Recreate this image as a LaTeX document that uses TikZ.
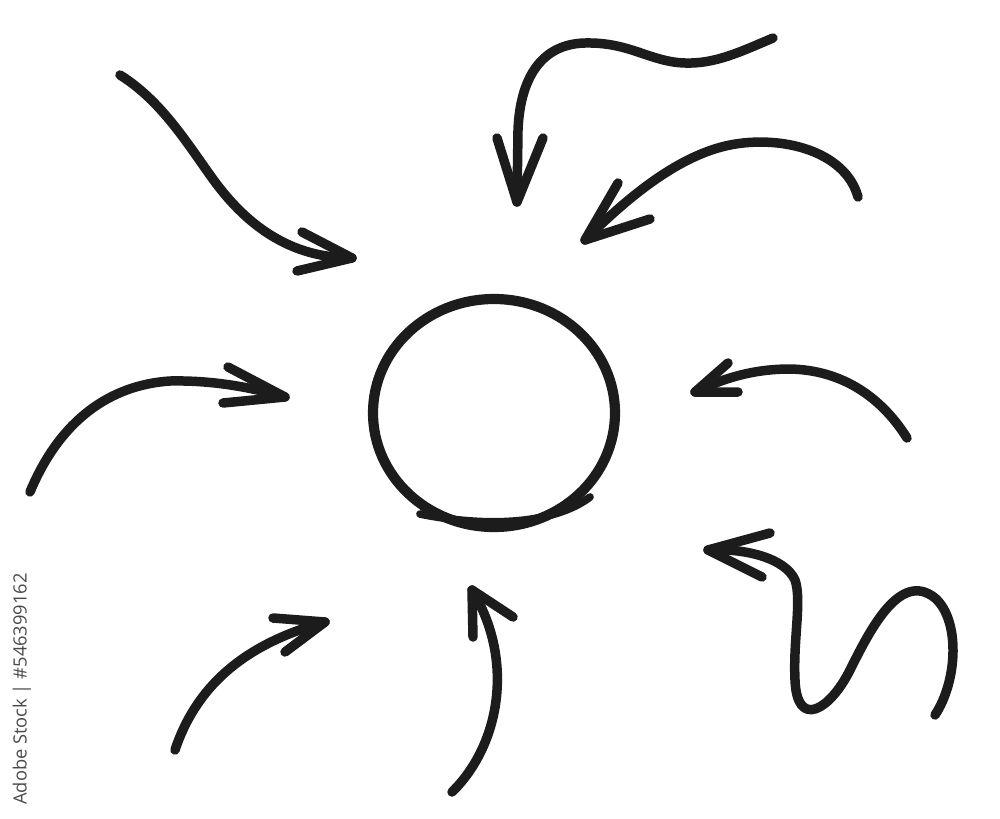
\documentclass[tikz,border=0pt]{standalone}
\usepackage{fontspec}
\newfontfamily\stockfont{Open Sans}
\definecolor{ink}{HTML}{1C1C1C}
\definecolor{stockgrey}{HTML}{4A4A4A}
\tikzset{
	pen/.style = {ink, line width = 2.7pt, line cap = round, line join = round},
}
\newcommand{\barbs}[3]{\draw[pen] (#2) -- (#1) -- (#3);}
\begin{document}
\begin{tikzpicture}[x = 0.01cm, y = -0.01cm]
	%	frame
	\useasboundingbox (0, 0) rectangle (1000, 818);
	
	%	circle in the middle
	\draw[pen, line width = 2.9pt] (494, 413) ellipse [x radius = 121, y radius = 114];
	\draw[pen, line width = 2.2pt] (590, 497) .. controls (560, 520) and (500, 530) .. (420, 514);
	
	%	tips
	\coordinate (tipA) at (352, 258);
	\coordinate (tipB) at (517, 202);
	\coordinate (tipC) at (585, 240);
	\coordinate (tipD) at (285, 397);
	\coordinate (tipE) at (695, 392);
	\coordinate (tipF) at (708, 550);
	\coordinate (tipG) at (325, 622);
	\coordinate (tipH) at (472, 590);
	
	%	top left
	\draw[pen] (120, 75) .. controls (160, 100) and (185, 140) .. (210, 175)
		.. controls (245, 225) and (290, 258) .. (tipA);
	\barbs{tipA}{302, 232}{297, 271}
	
	%	top, wavy
	\draw[pen] (773, 38) .. controls (740, 52) and (715, 64) .. (685, 63)
		.. controls (650, 62) and (630, 42) .. (585, 43)
		.. controls (540, 44) and (520, 80) .. (518, 130) -- (tipB);
	\barbs{tipB}{497, 138}{543, 138}
	
	%	top right
	\draw[pen] (858, 197) .. controls (845, 150) and (780, 135) .. (730, 145)
		.. controls (680, 155) and (630, 195) .. (tipC);
	\barbs{tipC}{618, 183}{650, 219}
	
	%	left
	\draw[pen] (30, 492) .. controls (60, 420) and (110, 385) .. (170, 381)
		.. controls (220, 380) and (260, 390) .. (tipD);
	\barbs{tipD}{228, 367}{223, 403}
	
	%	right
	\draw[pen] (907, 438) .. controls (880, 395) and (840, 370) .. (790, 369)
		.. controls (750, 369) and (720, 380) .. (tipE);
	\barbs{tipE}{728, 363}{738, 392}
	
	%	bottom right, snake
	\draw[pen] (935, 715) .. controls (958, 680) and (960, 620) .. (935, 598)
		.. controls (900, 570) and (870, 630) .. (850, 670)
		.. controls (830, 710) and (797, 730) .. (795, 680)
		.. controls (793, 640) and (802, 600) .. (795, 580)
		.. controls (785, 558) and (745, 548) .. (tipF);
	\barbs{tipF}{770, 533}{762, 577}
	
	%	bottom left
	\draw[pen] (175, 750) .. controls (195, 690) and (240, 645) .. (tipG);
	\barbs{tipG}{273, 618}{285, 652}
	
	%	bottom
	\draw[pen] (452, 792) .. controls (500, 745) and (515, 660) .. (tipH);
	\barbs{tipH}{473, 637}{513, 617}
	
	%	stock number
	\node[rotate = 90, text = stockgrey, font = \stockfont\fontsize{5.2}{6}\selectfont, inner sep = 0] (stock) at (22, 689) {Adobe Stock | \#546399162};
\end{tikzpicture}
\end{document}
